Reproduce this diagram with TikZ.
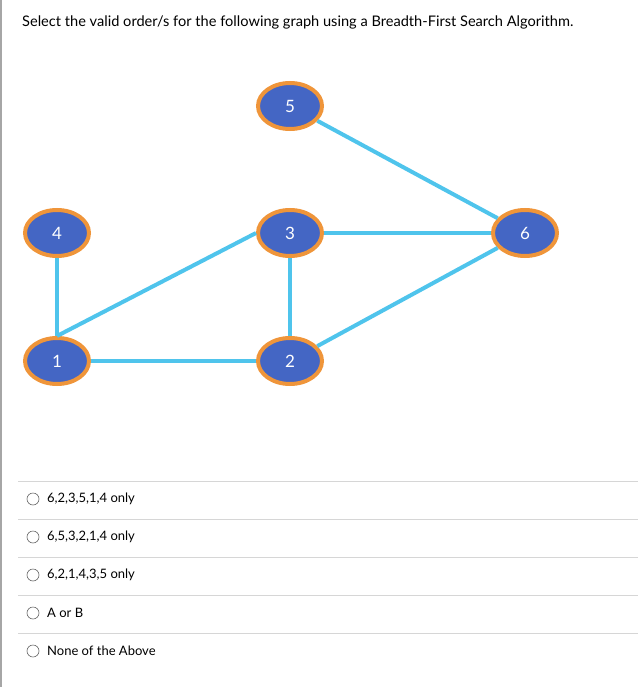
\documentclass[tikz,border=0pt]{standalone}
\usepackage{fontspec}
\setmainfont{Lato}
\usetikzlibrary{shapes.geometric}
\definecolor{nodeblue}{HTML}{4466C4}
\definecolor{nodeorange}{HTML}{EF953A}
\definecolor{edgecyan}{HTML}{4FC4EC}
\definecolor{sepgray}{HTML}{D6D6D6}
\tikzset{
  gnode/.style={ellipse, fill=nodeblue, draw=nodeorange, line width=4pt, minimum width=64pt, minimum height=46pt, inner sep=0pt, text=white, font=\fontsize{17}{17}\selectfont},
  gedge/.style={draw=edgecyan, line width=4pt},
  sep/.style={draw=sepgray, line width=0.8pt},
  opt/.style={anchor=west, inner sep=0pt, font=\fontsize{13}{13}\selectfont},
  radio/.style={circle, draw=gray!80!black, line width=0.6pt, minimum size=12pt, inner sep=0pt}
}
\begin{document}
\begin{tikzpicture}[x=1pt,y=-1pt]
\useasboundingbox (0,0) rectangle (638,687);
\draw[draw=gray!70, line width=1.2pt] (1,0) -- (1,687);
\node[anchor=west, inner sep=0pt, font=\fontsize{14.6}{15}\selectfont] (title) at (22,22) {Select the valid order/s for the following graph using a Breadth-First Search Algorithm.};
\node[gnode] (n5) at (290,106) {5};
\node[gnode] (n4) at (57,233) {4};
\node[gnode] (n3) at (290,233) {3};
\node[gnode] (n6) at (525,233) {6};
\node[gnode] (n1) at (57,361) {1};
\node[gnode] (n2) at (290,361) {2};
\begin{scope}[on background layer/.style={}]
\end{scope}
\path[gedge] (n4) -- (n1);
\path[gedge] (n1.north) -- (n3.west);
\path[gedge] (n1) -- (n2);
\path[gedge] (n3) -- (n2);
\path[gedge] (n3) -- (n6);
\path[gedge] (n5) -- (n6);
\path[gedge] (n2) -- (n6);
\foreach \y in {481,519,557,595,633} \draw[sep] (18,\y) -- (638,\y);
\foreach \i/\y/\t in {a/499/{6,2,3,5,1,4 only}, b/537/{6,5,3,2,1,4 only}, c/575/{6,2,1,4,3,5 only}, d/613/{A or B}, e/651/{None of the Above}} {
  \node[radio] (r\i) at (33,\y) {};
  \node[opt] (t\i) at (47,\y) {\t};
}
\end{tikzpicture}
\end{document}
